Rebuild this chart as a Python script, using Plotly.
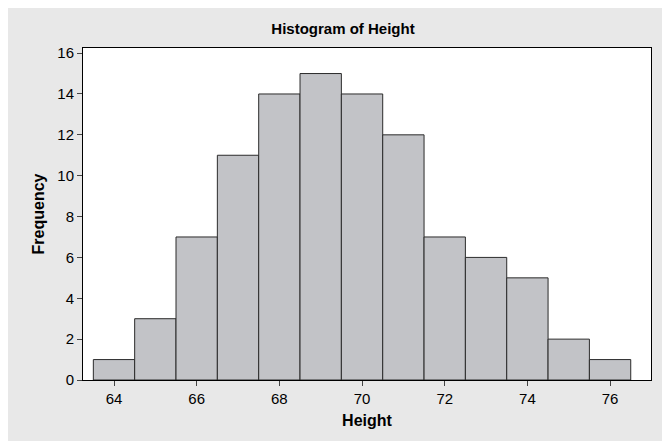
import plotly.graph_objects as go

heights = [64, 65, 66, 67, 68, 69, 70, 71, 72, 73, 74, 75, 76]
counts = [1, 3, 7, 11, 14, 15, 14, 12, 7, 6, 5, 2, 1]
x_ticks = [64, 66, 68, 70, 72, 74, 76]
y_ticks = [0, 2, 4, 6, 8, 10, 12, 14, 16]

fig = go.Figure(go.Bar(
    x=heights, y=counts, width=1,
    marker=dict(color="#c2c3c7", line=dict(color="#2b2b2b", width=1)),
))

axis_font = dict(family="Liberation Sans, Arial", size=16, color="black")
fig.update_layout(
    width=670, height=441,
    margin=dict(l=75, r=27, t=40, b=69),
    paper_bgcolor="#e8e8e8", plot_bgcolor="white",
    title=dict(text="<b>Histogram of Height</b>", x=0.5, y=0.965, xanchor="center",
               font=dict(family="Liberation Sans, Arial", size=15, color="black")),
    font=dict(family="Liberation Sans, Arial", size=15, color="black"),
    showlegend=False,
    xaxis=dict(range=[63.25, 76.99], tickvals=x_ticks, ticks="outside", ticklen=5,
               showgrid=False, zeroline=False, showline=True, linecolor="black", mirror=True,
               automargin=False,
               title=dict(text="<b>Height</b>", font=axis_font, standoff=8)),
    yaxis=dict(range=[0, 16.25], tickvals=y_ticks, ticks="outside", ticklen=5,
               showgrid=False, zeroline=False, showline=True, linecolor="black", mirror=True,
               automargin=False,
               title=dict(text="<b>Frequency</b>", font=axis_font, standoff=8)),
)

fig.write_html("out.html")
